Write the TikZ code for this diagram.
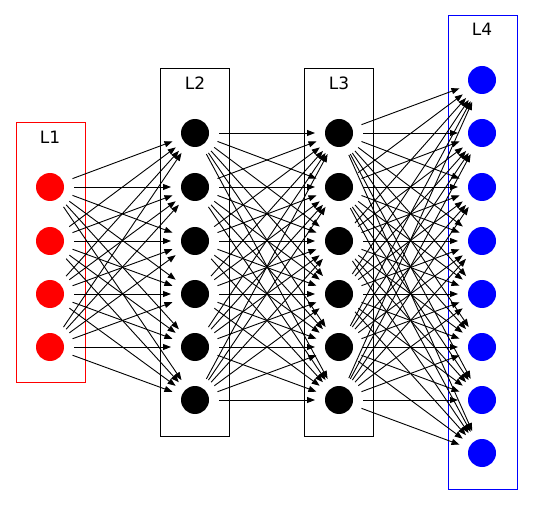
\documentclass[tikz,border=0pt]{standalone}
\usepackage{fontspec}
\setmainfont{DejaVu Sans}
\usetikzlibrary{arrows.meta}
\begin{document}
\begin{tikzpicture}[x=1pt,y=-1pt,
  neuron/.style={circle, minimum size=28pt, inner sep=0pt, outer sep=10pt},
  conn/.style={-{Triangle[length=8pt,width=6pt]}, line width=0.9pt},
  layerbox/.style={draw, line width=1pt, minimum width=69pt, inner sep=0pt},
  lbl/.style={font=\fontsize{17}{20}\selectfont, inner sep=0pt}]
\useasboundingbox (0,0) rectangle (533,505);
% layer boxes
\node[layerbox, draw=red, minimum height=259pt] (B1) at (50.5,252.5) {};
\node[layerbox, draw=black, minimum height=367pt] (B2) at (194.5,252.5) {};
\node[layerbox, draw=black, minimum height=367pt] (B3) at (338.5,252.5) {};
\node[layerbox, draw=blue, minimum height=473pt] (B4) at (482.5,252.5) {};
\node[lbl] (T1) at (50,137) {L1};
\node[lbl] (T2) at (195,83) {L2};
\node[lbl] (T3) at (339,83) {L3};
\node[lbl] (T4) at (482,29) {L4};
% neurons
\foreach \i/\y in {1/187,2/241,3/294,4/347}
  \node[neuron, fill=red] (a\i) at (50,\y) {};
\foreach \i/\y in {1/133,2/187,3/241,4/294,5/347,6/400}{
  \node[neuron, fill=black] (b\i) at (195,\y) {};
  \node[neuron, fill=black] (c\i) at (339,\y) {};
}
\foreach \i/\y in {1/80,2/133,3/187,4/241,5/294,6/347,7/400,8/453}
  \node[neuron, fill=blue] (d\i) at (482,\y) {};
% connections
\foreach \i in {1,...,4}
  \foreach \j in {1,...,6}
    \draw[conn] (a\i) -- (b\j);
\foreach \i in {1,...,6}
  \foreach \j in {1,...,6}
    \draw[conn] (b\i) -- (c\j);
\foreach \i in {1,...,6}
  \foreach \j in {1,...,8}
    \draw[conn] (c\i) -- (d\j);
\end{tikzpicture}
\end{document}
